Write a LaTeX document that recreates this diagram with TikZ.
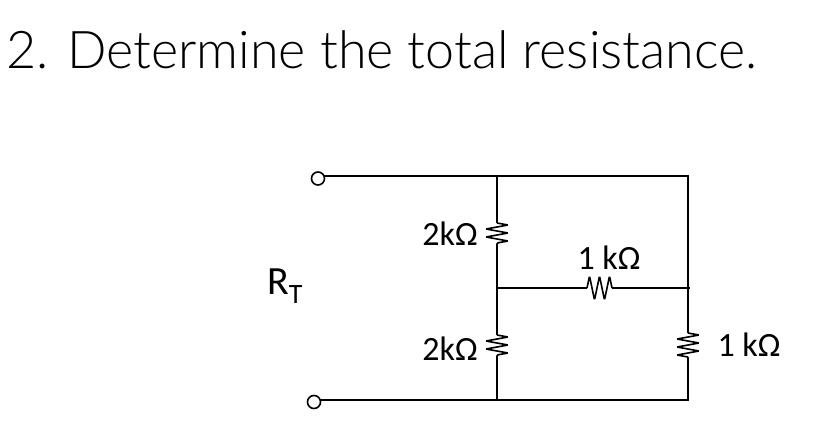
\documentclass[tikz,border=0pt]{standalone}
\usepackage{fontspec}
\setmainfont{Carlito}
\newfontfamily\titlefont{Lato Light}
\usetikzlibrary{decorations.pathmorphing}

\begin{document}
\begin{tikzpicture}[x=1pt, y=-1pt]
        \tikzstyle{wire} = [draw=black, line width=1.6pt]
        \tikzstyle{resistor} = [wire, rounded corners=1pt, decorate, decoration={zigzag, amplitude=11pt, segment length=8pt}]
        \tikzstyle{bridgeres} = [wire, rounded corners=1.5pt, decorate, decoration={zigzag, amplitude=12pt, segment length=10pt}]
        \tikzstyle{terminal} = [circle, draw=black, line width=1.6pt, fill=white, inner sep=0pt, minimum size=13pt]
        \tikzstyle{label} = [inner sep=0pt, font=\fontsize{34}{34}\selectfont]
        \useasboundingbox (0,0) rectangle (830,429);

        \node[anchor=west, inner sep=0pt, font=\titlefont\fontsize{52}{52}\selectfont] (title) at (6,50) {2. Determine the total resistance.};

        \coordinate (topStub) at (324,176);
        \coordinate (botStub) at (320,400);
        \coordinate (topMid) at (497,176);
        \coordinate (topRight) at (688,176);
        \coordinate (midLeft) at (497,288);
        \coordinate (midRight) at (690,288);
        \coordinate (botMid) at (497,400);
        \coordinate (botRight) at (688,400);

        \coordinate (leftUpA) at (497,223);
        \coordinate (leftUpB) at (497,246);
        \coordinate (leftLowA) at (497,335);
        \coordinate (leftLowB) at (497,358);
        \coordinate (bridgeA) at (587,288);
        \coordinate (bridgeB) at (612,288);
        \coordinate (rightA) at (688,333);
        \coordinate (rightB) at (688,357);

        \draw[wire] (topStub) -- (topMid) -- (topRight) -- (688,288) -- (rightA);
        \draw[wire] (botStub) -- (botMid) -- (botRight) -- (rightB);

        \node[terminal] (topTerm) at (318,178.5) {};
        \node[terminal] (botTerm) at (314,402) {};

        %left branch
        \draw[wire] (topMid) -- (leftUpA);
        \draw[resistor] (leftUpA) -- (leftUpB);
        \draw[wire] (leftUpB) -- (midLeft) -- (leftLowA);
        \draw[resistor] (leftLowA) -- (leftLowB);
        \draw[wire] (leftLowB) -- (botMid);

        %bridge
        \draw[wire] (midLeft) -- (bridgeA);
        \draw[bridgeres] (bridgeA) -- (bridgeB);
        \draw[wire] (bridgeB) -- (midRight);

        %right branch
        \draw[resistor] (rightA) -- (rightB);

        \node[label] (rtLabel) at (285,286) {\fontsize{40}{40}\selectfont R\textsubscript{T}};
        \node[label] (leftUpLabel) at (450,234) {2kΩ};
        \node[label] (leftLowLabel) at (450,349) {2kΩ};
        \node[label] (bridgeLabel) at (609,258) {1 kΩ};
        \node[label] (rightLabel) at (749,345) {1 kΩ};
\end{tikzpicture}
\end{document}
